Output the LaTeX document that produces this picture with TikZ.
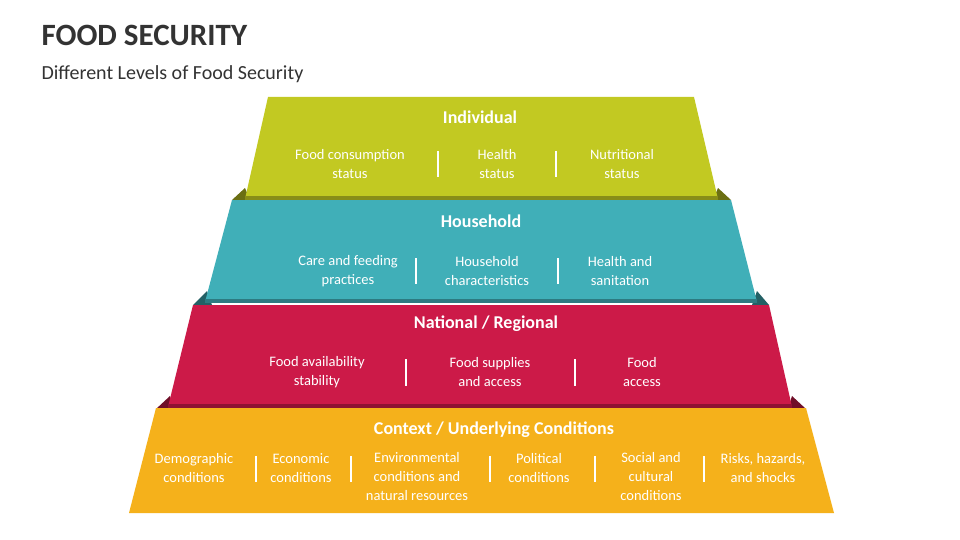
\documentclass[tikz,border=0pt]{standalone}
\usepackage{fontspec}
\setmainfont{Carlito}
\begin{document}
\begin{tikzpicture}[x=1pt,y=-1pt,
  hd/.style={font=\fontsize{18}{20}\selectfont\bfseries,text=white},
  tx/.style={font=\fontsize{14.5}{19}\selectfont,text=white,align=center},
  sep/.style={white,line width=1.5pt}]
\useasboundingbox[fill=white] (0,0) rectangle (960,540);
\node[anchor=west,font=\fontsize{31}{34}\selectfont\bfseries,text=black!80] (t) at (38,35) {FOOD SECURITY};
\node[anchor=west,font=\fontsize{20}{22}\selectfont,text=black!80] (st) at (38,74) {Different Levels of Food Security};
% colors
\definecolor{cY}{HTML}{C2C922}\definecolor{cT}{HTML}{40AFB8}
\definecolor{cR}{HTML}{CC1A48}\definecolor{cO}{HTML}{F5B11B}
% fold triangles
\fill[cY!55!black] (232,200) -- (245,188) -- (250,200) -- cycle;
\fill[cY!55!black] (731,200) -- (718,188) -- (713,200) -- cycle;
\fill[cT!55!black] (193,305) -- (207,291) -- (212,305) -- cycle;
\fill[cT!55!black] (769,305) -- (757,291) -- (752,305) -- cycle;
\fill[cR!55!black] (156,409) -- (170,396) -- (174,409) -- cycle;
\fill[cR!55!black] (806,409) -- (792,396) -- (788,409) -- cycle;
% layers
\fill[cY] (268,97) -- (694,97) -- (718,199) -- (245,199) -- cycle;
\fill[cY!70!black] (245,196) -- (718,196) -- (718,200) -- (245,200) -- cycle;
\fill[cT] (232,200) -- (731,200) -- (757,302) -- (205,302) -- cycle;
\fill[cT!70!black] (205,299) -- (757,299) -- (757,303) -- (205,303) -- cycle;
\fill[cR] (193,305) -- (769,305) -- (792,407) -- (168,407) -- cycle;
\fill[cR!70!black] (168,404) -- (792,404) -- (792,408) -- (168,408) -- cycle;
\fill[cO] (156,408) -- (806,408) -- (834,513) -- (129,513) -- cycle;
% Individual
\node[hd] (h1) at (480,117) {Individual};
\node[tx] (a1) at (350,164) {Food consumption\\status};
\node[tx] (a2) at (497,164) {Health\\status};
\node[tx] (a3) at (622,164) {Nutritional\\status};
\draw[sep] (438,151) -- (438,177); \draw[sep] (556,151) -- (556,177);
% Household
\node[hd] (h2) at (481,221) {Household};
\node[tx] (b1) at (348,271) {Care and feeding\\practices};
\node[tx] (b2) at (487,271) {Household\\characteristics};
\node[tx] (b3) at (620,271) {Health and\\sanitation};
\draw[sep] (416,258) -- (416,284); \draw[sep] (558,258) -- (558,284);
% National
\node[hd] (h3) at (486,324) {National / Regional};
\node[tx] (c1) at (317,372) {Food availability\\stability};
\node[tx] (c2) at (490,372) {Food supplies\\and access};
\node[tx] (c3) at (642,372) {Food\\access};
\draw[sep] (406,359) -- (406,386); \draw[sep] (575,359) -- (575,386);
% Context
\node[hd] (h4) at (494,430) {Context / Underlying Conditions};
\node[tx] (d1) at (194,468) {Demographic\\conditions};
\node[tx] (d2) at (301,468) {Economic\\conditions};
\node[tx] (d3) at (417,477) {Environmental\\conditions and\\natural resources};
\node[tx] (d4) at (539,468) {Political\\conditions};
\node[tx] (d5) at (651,477) {Social and\\cultural\\conditions};
\node[tx] (d6) at (763,468) {Risks, hazards,\\and shocks};
\draw[sep] (256,456) -- (256,482); \draw[sep] (351,456) -- (351,482);
\draw[sep] (490,456) -- (490,482); \draw[sep] (595,456) -- (595,482);
\draw[sep] (704,456) -- (704,482);
\end{tikzpicture}
\end{document}
